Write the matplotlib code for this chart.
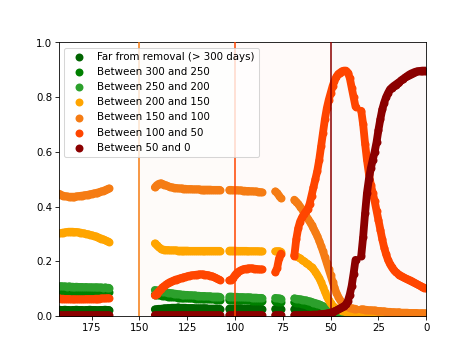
import numpy as np
import matplotlib
matplotlib.use("Agg")
import matplotlib.pyplot as plt

# days before removal (gaps where no data)
days = [*range(192, 165, -1), *range(142, 107, -1), *range(103, 85, -1),
        *range(79, 75, -1), *range(69, 36, -1), *range(34, -1, -1)]

far = [
    0.023, 0.022, 0.022, 0.023, 0.022, 0.022, 0.021, 0.022, 0.022,
    0.023, 0.022, 0.022, 0.022, 0.021, 0.022, 0.022, 0.023, 0.022,
    0.022, 0.022, 0.021, 0.022, 0.022, 0.022, 0.023, 0.022, 0.022,
    0.024, 0.025, 0.026, 0.026, 0.027, 0.028, 0.028, 0.029, 0.029,
    0.030, 0.030, 0.030, 0.031, 0.030, 0.030, 0.030, 0.030, 0.029,
    0.029, 0.029, 0.029, 0.028, 0.028, 0.028, 0.028, 0.028, 0.028,
    0.028, 0.027, 0.027, 0.027, 0.027, 0.027, 0.026, 0.026,
    0.027, 0.027, 0.027, 0.028, 0.028, 0.028, 0.028, 0.027, 0.027,
    0.027, 0.027, 0.027, 0.026, 0.026, 0.026, 0.026, 0.026, 0.026,
    0.026, 0.026, 0.025, 0.025,
    0.025, 0.024, 0.024, 0.023, 0.022, 0.021, 0.020, 0.019, 0.018,
    0.017, 0.016, 0.015, 0.014, 0.013, 0.012, 0.011, 0.010, 0.009,
    0.008, 0.007, 0.006, 0.005, 0.004, 0.003, 0.003, 0.002, 0.002,
    0.001, 0.001, 0.001, 0.0, 0.0, 0.0,
    0.0, 0.0, 0.0, 0.0, 0.0, 0.0, 0.0, 0.0, 0.0,
    0.0, 0.0, 0.0, 0.0, 0.0, 0.0, 0.0, 0.0, 0.0,
    0.0, 0.0, 0.0, 0.0, 0.0, 0.0, 0.0, 0.0, 0.0,
    0.0, 0.0, 0.0, 0.0, 0.0, 0.0, 0.0, 0.0,
]

b300_250 = [
    0.091, 0.091, 0.090, 0.090, 0.091, 0.090, 0.090, 0.089, 0.090,
    0.090, 0.089, 0.089, 0.090, 0.089, 0.089, 0.088, 0.089, 0.089,
    0.088, 0.088, 0.089, 0.088, 0.088, 0.087, 0.088, 0.088, 0.087,
    0.078, 0.077, 0.076, 0.075, 0.074, 0.073, 0.072, 0.071, 0.070,
    0.069, 0.069, 0.068, 0.067, 0.067, 0.066, 0.066, 0.065, 0.065,
    0.064, 0.064, 0.064, 0.063, 0.063, 0.063, 0.062, 0.062, 0.062,
    0.062, 0.061, 0.061, 0.061, 0.061, 0.060, 0.060, 0.060,
    0.060, 0.060, 0.059, 0.059, 0.059, 0.058, 0.058, 0.058, 0.057,
    0.057, 0.057, 0.057, 0.056, 0.056, 0.056, 0.056, 0.055, 0.055,
    0.053, 0.052, 0.052, 0.051,
    0.050, 0.049, 0.047, 0.046, 0.044, 0.042, 0.040, 0.038, 0.036,
    0.034, 0.032, 0.030, 0.028, 0.026, 0.024, 0.022, 0.020, 0.018,
    0.016, 0.014, 0.012, 0.010, 0.008, 0.007, 0.006, 0.005, 0.004,
    0.003, 0.002, 0.002, 0.001, 0.001, 0.0,
    0.0, 0.0, 0.0, 0.0, 0.0, 0.0, 0.0, 0.0, 0.0,
    0.0, 0.0, 0.0, 0.0, 0.0, 0.0, 0.0, 0.0, 0.0,
    0.0, 0.0, 0.0, 0.0, 0.0, 0.0, 0.0, 0.0, 0.0,
    0.0, 0.0, 0.0, 0.0, 0.0, 0.0, 0.0, 0.0,
]

b250_200 = [
    0.108, 0.109, 0.108, 0.108, 0.107, 0.108, 0.107, 0.107, 0.106,
    0.107, 0.106, 0.106, 0.106, 0.105, 0.106, 0.105, 0.105, 0.105,
    0.104, 0.105, 0.104, 0.104, 0.104, 0.103, 0.104, 0.103, 0.103,
    0.095, 0.093, 0.092, 0.090, 0.089, 0.088, 0.086, 0.085, 0.084,
    0.083, 0.082, 0.081, 0.080, 0.079, 0.078, 0.078, 0.077, 0.077,
    0.076, 0.076, 0.075, 0.075, 0.074, 0.074, 0.073, 0.073, 0.073,
    0.072, 0.072, 0.072, 0.071, 0.071, 0.071, 0.071, 0.070,
    0.071, 0.071, 0.070, 0.070, 0.070, 0.069, 0.069, 0.069, 0.068,
    0.068, 0.068, 0.068, 0.067, 0.067, 0.067, 0.066, 0.066, 0.066,
    0.066, 0.065, 0.064, 0.063,
    0.064, 0.063, 0.062, 0.061, 0.060, 0.058, 0.057, 0.055, 0.053,
    0.051, 0.049, 0.047, 0.045, 0.042, 0.039, 0.036, 0.033, 0.030,
    0.027, 0.024, 0.021, 0.018, 0.015, 0.013, 0.011, 0.009, 0.007,
    0.006, 0.005, 0.004, 0.003, 0.002, 0.001,
    0.001, 0.001, 0.0, 0.0, 0.0, 0.0, 0.0, 0.0, 0.0,
    0.0, 0.0, 0.0, 0.0, 0.0, 0.0, 0.0, 0.0, 0.0,
    0.0, 0.0, 0.0, 0.0, 0.0, 0.0, 0.0, 0.0, 0.0,
    0.0, 0.0, 0.0, 0.0, 0.0, 0.0, 0.0, 0.0,
]

b200_150 = [
    0.302, 0.303, 0.305, 0.306, 0.307, 0.308, 0.308, 0.308, 0.307,
    0.307, 0.306, 0.305, 0.303, 0.302, 0.300, 0.299, 0.297, 0.295,
    0.293, 0.291, 0.288, 0.286, 0.283, 0.280, 0.277, 0.274, 0.271,
    0.265, 0.258, 0.251, 0.246, 0.243, 0.242, 0.241, 0.241, 0.240,
    0.240, 0.240, 0.240, 0.239, 0.239, 0.239, 0.239, 0.239, 0.239,
    0.238, 0.238, 0.238, 0.238, 0.238, 0.238, 0.238, 0.238, 0.238,
    0.238, 0.238, 0.238, 0.238, 0.238, 0.238, 0.238, 0.238,
    0.239, 0.239, 0.239, 0.239, 0.238, 0.238, 0.238, 0.238, 0.238,
    0.238, 0.237, 0.237, 0.237, 0.237, 0.237, 0.237, 0.236, 0.236,
    0.236, 0.237, 0.237, 0.235,
    0.222, 0.218, 0.214, 0.210, 0.205, 0.200, 0.195, 0.190, 0.184,
    0.178, 0.171, 0.162, 0.151, 0.138, 0.123, 0.106, 0.088, 0.071,
    0.057, 0.046, 0.038, 0.032, 0.027, 0.024, 0.021, 0.019, 0.017,
    0.015, 0.014, 0.013, 0.012, 0.011, 0.010,
    0.009, 0.008, 0.008, 0.007, 0.007, 0.006, 0.006, 0.005, 0.005,
    0.005, 0.004, 0.004, 0.004, 0.004, 0.003, 0.003, 0.003, 0.003,
    0.003, 0.003, 0.002, 0.002, 0.002, 0.002, 0.002, 0.002, 0.002,
    0.002, 0.002, 0.002, 0.002, 0.002, 0.002, 0.002, 0.002,
]

b150_100 = [
    0.447, 0.443, 0.440, 0.438, 0.437, 0.436, 0.436, 0.436, 0.436,
    0.437, 0.438, 0.439, 0.440, 0.441, 0.442, 0.443, 0.445, 0.446,
    0.448, 0.449, 0.451, 0.453, 0.455, 0.457, 0.460, 0.463, 0.466,
    0.470, 0.478, 0.483, 0.485, 0.483, 0.480, 0.477, 0.474, 0.472,
    0.470, 0.469, 0.468, 0.467, 0.466, 0.466, 0.465, 0.465, 0.464,
    0.464, 0.464, 0.463, 0.463, 0.463, 0.463, 0.462, 0.462, 0.462,
    0.462, 0.462, 0.462, 0.461, 0.461, 0.461, 0.461, 0.461,
    0.461, 0.461, 0.460, 0.460, 0.460, 0.459, 0.459, 0.458, 0.458,
    0.457, 0.457, 0.456, 0.456, 0.455, 0.455, 0.454, 0.453, 0.452,
    0.455, 0.450, 0.440, 0.430,
    0.425, 0.418, 0.410, 0.400, 0.390, 0.378, 0.367, 0.356, 0.345,
    0.333, 0.320, 0.307, 0.292, 0.275, 0.256, 0.236, 0.214, 0.192,
    0.170, 0.148, 0.125, 0.104, 0.085, 0.070, 0.057, 0.048, 0.041,
    0.036, 0.033, 0.030, 0.028, 0.027, 0.026,
    0.024, 0.024, 0.023, 0.022, 0.021, 0.021, 0.020, 0.020, 0.019,
    0.018, 0.018, 0.017, 0.017, 0.016, 0.015, 0.015, 0.014, 0.014,
    0.013, 0.013, 0.013, 0.012, 0.012, 0.012, 0.012, 0.011, 0.011,
    0.011, 0.011, 0.011, 0.010, 0.010, 0.010, 0.010, 0.010,
]

b100_50 = [
    0.064, 0.063, 0.063, 0.062, 0.062, 0.062, 0.061, 0.061, 0.061,
    0.061, 0.061, 0.061, 0.061, 0.061, 0.062, 0.062, 0.062, 0.062,
    0.062, 0.063, 0.063, 0.063, 0.064, 0.064, 0.064, 0.065, 0.065,
    0.075, 0.082, 0.090, 0.097, 0.104, 0.110, 0.115, 0.120, 0.124,
    0.127, 0.130, 0.133, 0.135, 0.137, 0.139, 0.141, 0.143, 0.145,
    0.147, 0.148, 0.149, 0.150, 0.151, 0.152, 0.152, 0.152, 0.151,
    0.150, 0.149, 0.147, 0.145, 0.142, 0.139, 0.135, 0.132,
    0.130, 0.132, 0.140, 0.150, 0.158, 0.163, 0.167, 0.170, 0.172,
    0.173, 0.174, 0.174, 0.174, 0.173, 0.172, 0.171, 0.170, 0.170,
    0.160, 0.175, 0.210, 0.228,
    0.220, 0.280, 0.320, 0.345, 0.360, 0.372, 0.382, 0.390, 0.410,
    0.440, 0.470, 0.500, 0.530, 0.570, 0.620, 0.670, 0.720, 0.760,
    0.790, 0.815, 0.840, 0.860, 0.875, 0.885, 0.890, 0.895, 0.897,
    0.897, 0.890, 0.870, 0.835, 0.800, 0.765,
    0.750, 0.700, 0.630, 0.570, 0.520, 0.480, 0.450, 0.420, 0.385,
    0.350, 0.315, 0.280, 0.250, 0.225, 0.205, 0.190, 0.178, 0.168,
    0.160, 0.155, 0.150, 0.146, 0.142, 0.138, 0.135, 0.132, 0.129,
    0.125, 0.121, 0.117, 0.113, 0.109, 0.106, 0.103, 0.101,
]

b50_0 = [
    0.003, 0.003, 0.003, 0.003, 0.003, 0.003, 0.003, 0.003, 0.003,
    0.003, 0.003, 0.003, 0.003, 0.003, 0.003, 0.003, 0.003, 0.003,
    0.003, 0.003, 0.003, 0.003, 0.003, 0.003, 0.003, 0.003, 0.003,
    0.003, 0.003, 0.003, 0.003, 0.003, 0.003, 0.003, 0.003, 0.003,
    0.003, 0.003, 0.003, 0.003, 0.003, 0.003, 0.003, 0.003, 0.003,
    0.003, 0.003, 0.003, 0.003, 0.003, 0.003, 0.003, 0.003, 0.003,
    0.003, 0.003, 0.003, 0.003, 0.003, 0.003, 0.003, 0.003,
    0.003, 0.003, 0.003, 0.003, 0.003, 0.003, 0.003, 0.003, 0.003,
    0.003, 0.003, 0.003, 0.003, 0.003, 0.003, 0.003, 0.003, 0.003,
    0.003, 0.003, 0.003, 0.003,
    0.003, 0.003, 0.003, 0.003, 0.003, 0.004, 0.004, 0.004, 0.004,
    0.004, 0.005, 0.005, 0.005, 0.006, 0.006, 0.007, 0.008, 0.009,
    0.010, 0.012, 0.014, 0.017, 0.020, 0.024, 0.028, 0.032, 0.036,
    0.042, 0.055, 0.078, 0.110, 0.155, 0.205,
    0.220, 0.290, 0.375, 0.450, 0.500, 0.540, 0.570, 0.600, 0.635,
    0.680, 0.720, 0.755, 0.780, 0.800, 0.815, 0.828, 0.835, 0.841,
    0.846, 0.851, 0.856, 0.862, 0.867, 0.872, 0.877, 0.882, 0.886,
    0.889, 0.892, 0.894, 0.895, 0.896, 0.897, 0.897, 0.897,
]

labels = ["Far from removal (> 300 days)", "Between 300 and 250",
          "Between 250 and 200", "Between 200 and 150",
          "Between 150 and 100", "Between 100 and 50", "Between 50 and 0"]
colors = ["darkgreen", "green", "#2ca02c", "orange", "#f57c14",
          "orangered", "darkred"]
series = [far, b300_250, b250_200, b200_150, b150_100, b100_50, b50_0]

fig, ax = plt.subplots(figsize=(6.4, 4.8), dpi=74)

x = np.array(days, dtype=float)
gaps = np.where(np.diff(x) < -1)[0] + 1  # break the band where days are missing
xb = np.insert(x, gaps, np.nan)

for i, (vals, lab, col) in enumerate(zip(series, labels, colors)):
    z = 1 + i * 0.1
    yb = np.insert(np.array(vals, dtype=float), gaps, np.nan)
    # dense sampling in the original shows up as a solid band of dots
    ax.plot(xb, yb, color=col, lw=7.6, solid_capstyle="round",
            solid_joinstyle="round", zorder=z)
    ax.scatter(days, vals, s=60, color=col, label=lab, linewidths=0, zorder=z)

# removal phase markers
for start, col in [(150, colors[4]), (100, colors[5]), (50, colors[6])]:
    ax.axvline(start, color=col, lw=1.5, zorder=3)
    ax.axvspan(start, start - 50, color=col, alpha=0.025, lw=0, zorder=0)

ax.set_xlim(192, 0)
ax.set_ylim(0, 1)
ax.legend(loc="upper left")

fig.savefig("out.png", dpi=74)
